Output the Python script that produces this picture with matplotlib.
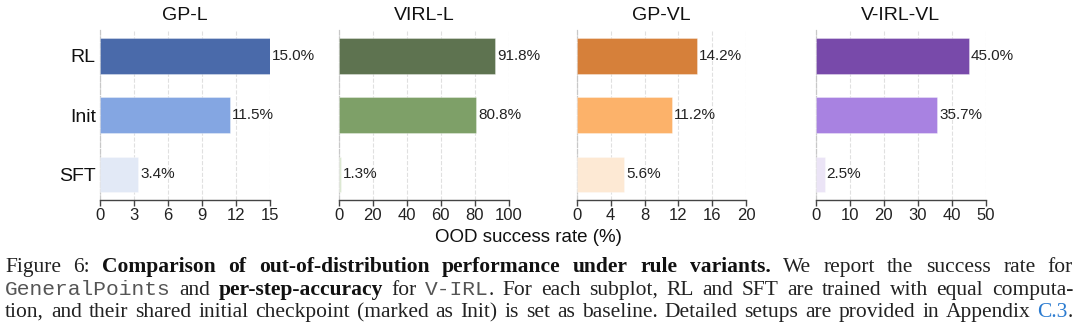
import matplotlib
matplotlib.use('Agg')
import matplotlib.pyplot as plt
import numpy as np

# data
categories = ['SFT', 'Init', 'RL']
panel_titles = ['GP-L', 'VIRL-L', 'GP-VL', 'V-IRL-VL']
gp_l = [3.4, 11.5, 15.0]
virl_l = [1.3, 80.8, 91.8]
gp_vl = [5.6, 11.2, 14.2]
virl_vl = [2.5, 35.7, 45.0]
panel_values = [gp_l, virl_l, gp_vl, virl_vl]
x_max = [15, 100, 20, 50]
x_step = [3, 20, 4, 10]

# bar colours per panel: SFT, Init, RL
panel_colors = [
    ['#E2E9F6', '#84A6E2', '#4A6AAA'],
    ['#DCE8D2', '#7EA068', '#5E7350'],
    ['#FDE9D4', '#FCB26A', '#D6803A'],
    ['#EBE4F6', '#A882E1', '#784AAA'],
]

plt.rcParams['font.family'] = ['Liberation Sans', 'DejaVu Sans']

fig = plt.figure(figsize=(10.8, 3.35), dpi=100)
lefts = [0.0926, 0.3139, 0.534, 0.7556]

for k in range(4):
    ax = fig.add_axes([lefts[k], 0.403, 0.157, 0.507])
    vals = panel_values[k]
    y = np.arange(len(categories))
    ax.barh(y, vals, height=0.6, color=panel_colors[k],
            edgecolor=(1, 1, 1, 0.45), linewidth=0.5, zorder=3)
    for yi, v in zip(y, vals):
        ax.annotate(f'{v:.1f}%', (v, yi), xytext=(1.5, 0), textcoords='offset points',
                    ha='left', va='center', fontsize=11, color='#222222')
    ax.set_xlim(0, x_max[k])
    ax.set_xticks(np.arange(0, x_max[k] + 1, x_step[k]))
    ax.set_title(panel_titles[k], fontsize=14, pad=7, color='#111111')
    ax.xaxis.grid(True, linestyle='--', color='#e0e0e0', linewidth=0.8)
    ax.set_axisbelow(True)
    for s in ['top', 'right']:
        ax.spines[s].set_visible(False)
    ax.spines['left'].set_linestyle('--')
    ax.spines['left'].set_color('#c8c8c8')
    ax.spines['left'].set_linewidth(0.9)
    ax.spines['bottom'].set_color('#444444')
    ax.spines['bottom'].set_linewidth(1.0)
    ax.tick_params(axis='x', length=4, width=1, color='#444444',
                   labelsize=12, labelcolor='#222222', pad=2)
    if k == 0:
        ax.set_yticks(y)
        ax.set_yticklabels(categories, fontsize=14, color='#111111')
        ax.tick_params(axis='y', length=0, pad=3)
    else:
        ax.set_yticks([])

fig.text(528 / 1080, 1 - 242 / 335, 'OOD success rate (%)', ha='center', va='baseline',
         fontsize=13.5, color='#111111')

# caption, drawn word by word and justified
styles = {
    'n': dict(family='Liberation Serif', color='#222222', fontsize=15.5),
    'b': dict(family='Liberation Serif', color='#111111', fontsize=15.5, weight='bold'),
    'm': dict(family='Liberation Mono', color='#555555', fontsize=15.3),
    'c': dict(family='Liberation Serif', color='#2B7BD0', fontsize=15.5),
}


def words(text, st):
    return [[(w, st)] for w in text.split()]


line1 = (words('Figure 6:', 'n')
         + words('Comparison of out-of-distribution performance under rule variants.', 'b')
         + words('We report the success rate for', 'n'))
line2 = ([[('GeneralPoints', 'm')]] + words('and', 'n') + words('per-step-accuracy', 'b')
         + words('for', 'n') + [[('V-IRL', 'm'), ('.', 'n')]]
         + words('For each subplot, RL and SFT are trained with equal computa-', 'n'))
line3 = (words('tion, and their shared initial checkpoint (marked as Init) is set as baseline. '
               'Detailed setups are provided in Appendix', 'n')
         + [[('C.3', 'c'), ('.', 'n')]])
caption_lines = [line1, line2, line3]
baselines = [272, 295, 317]

renderer = fig.canvas.get_renderer()
W = fig.get_figwidth() * fig.dpi
H = fig.get_figheight() * fig.dpi
x_start, x_end = 5, 1073

for groups, yb in zip(caption_lines, baselines):
    placed = []
    total = 0
    for g in groups:
        row = []
        gw = 0
        for txt, st in g:
            t = fig.text(0, 1 - yb / H, txt, va='baseline', ha='left', **styles[st])
            w = t.get_window_extent(renderer).width
            row.append((t, w))
            gw += w
        placed.append(row)
        total += gw
    gap = (x_end - x_start - total) / (len(groups) - 1)
    x = x_start
    for row in placed:
        for t, w in row:
            t.set_x(x / W)
            x += w
        x += gap

fig.savefig('out.png', dpi=100)
